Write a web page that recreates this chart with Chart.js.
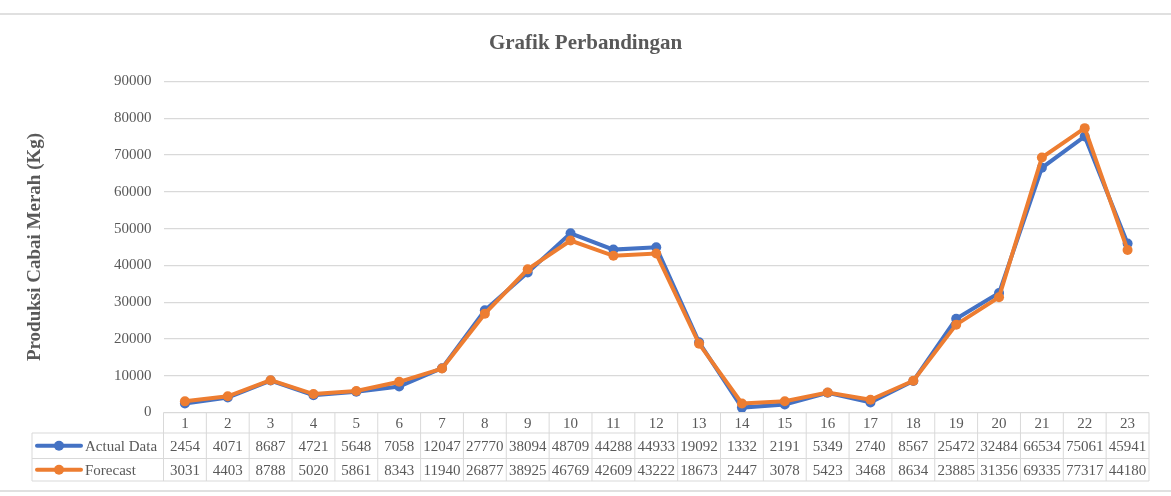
<!DOCTYPE html>
<html>
<head>
<meta charset="utf-8">
<script src="https://cdn.jsdelivr.net/npm/chart.js"></script>
<style>
  body { margin: 0; background: #fff; }
  #wrap { width: 1171px; height: 496px; }
</style>
</head>
<body>
<div id="wrap"><canvas id="myChart" width="1171" height="496"></canvas></div>
<script>
const categories = ['1','2','3','4','5','6','7','8','9','10','11','12','13','14','15','16','17','18','19','20','21','22','23'];
const actualData = [2454, 4071, 8687, 4721, 5648, 7058, 12047, 27770, 38094, 48709, 44288, 44933, 19092, 1332, 2191, 5349, 2740, 8567, 25472, 32484, 66534, 75061, 45941];
const forecastData = [3031, 4403, 8788, 5020, 5861, 8343, 11940, 26877, 38925, 46769, 42609, 43222, 18673, 2447, 3078, 5423, 3468, 8634, 23885, 31356, 69335, 77317, 44180];
const yMin = 0;
const yMax = 90000;
const yStep = 10000;

const blue = '#4472C4';
const orange = '#ED7D31';
const textColor = '#595959';
const lineGray = '#d9d9d9';
const serif = "'Liberation Serif', 'Times New Roman', serif";

// excel-like data table under the plot, plus the frame lines
const dataTable = {
    id: 'data_table',
    afterDraw: (chart) => {
        const ctx = chart.ctx;
        const area = chart.chartArea;
        const x = chart.scales.x;
        const colW = (area.right - area.left) / categories.length;
        const tableLeft = 32;
        const rows = [area.bottom, 433, 458.5, 481];

        ctx.save();

        // frame lines top and bottom
        ctx.strokeStyle = '#e0e0e0';
        ctx.lineWidth = 2;
        ctx.beginPath();
        ctx.moveTo(0, 14); ctx.lineTo(chart.width, 14);
        ctx.moveTo(0, 491); ctx.lineTo(chart.width, 491);
        ctx.stroke();

        ctx.strokeStyle = lineGray;
        ctx.lineWidth = 1;
        ctx.beginPath();
        // horizontal lines
        ctx.moveTo(area.left, rows[0]); ctx.lineTo(area.right, rows[0]);
        for (let r = 1; r < rows.length; r++) {
            ctx.moveTo(tableLeft, rows[r]); ctx.lineTo(area.right, rows[r]);
        }
        // vertical lines
        ctx.moveTo(tableLeft, rows[1]); ctx.lineTo(tableLeft, rows[3]);
        for (let i = 0; i <= categories.length; i++) {
            const px = area.left + i * colW;
            ctx.moveTo(px, rows[0]); ctx.lineTo(px, rows[3]);
        }
        ctx.stroke();

        ctx.fillStyle = textColor;
        ctx.font = '15px ' + serif;
        ctx.textAlign = 'center';
        ctx.textBaseline = 'middle';
        const series = [actualData, forecastData];
        categories.forEach(function(cat, i) {
            const cx = x.getPixelForValue(i);
            ctx.fillText(cat, cx, (rows[0] + rows[1]) / 2 + 1);
            series.forEach(function(vals, s) {
                ctx.fillText(String(vals[i]), cx, (rows[s + 1] + rows[s + 2]) / 2 + 1);
            });
        });

        // legend keys in the first column
        const keys = [
            { label: 'Actual Data', color: blue },
            { label: 'Forecast', color: orange }
        ];
        keys.forEach(function(k, s) {
            const cy = (rows[s + 1] + rows[s + 2]) / 2;
            ctx.strokeStyle = k.color;
            ctx.lineWidth = 4;
            ctx.lineCap = 'round';
            ctx.beginPath();
            ctx.moveTo(37, cy); ctx.lineTo(81, cy);
            ctx.stroke();
            ctx.fillStyle = k.color;
            ctx.beginPath();
            ctx.arc(59, cy, 5, 0, Math.PI * 2);
            ctx.fill();
            ctx.fillStyle = textColor;
            ctx.textAlign = 'left';
            ctx.fillText(k.label, 85, cy + 1);
        });

        ctx.restore();
    }
};

const ctx = document.getElementById('myChart');

const myChart = new Chart(ctx, {
    type: 'line',
    data: {
        labels: categories,
        datasets: [
            {
                label: 'Actual Data',
                data: actualData,
                borderColor: blue,
                backgroundColor: blue,
                borderWidth: 4,
                pointRadius: 5,
                pointBorderWidth: 0,
                tension: 0,
                order: 1
            },
            {
                label: 'Forecast',
                data: forecastData,
                borderColor: orange,
                backgroundColor: orange,
                borderWidth: 4,
                pointRadius: 5,
                pointBorderWidth: 0,
                tension: 0,
                order: 0
            }
        ]
    },
    options: {
        responsive: false,
        animation: false,
        devicePixelRatio: 1,
        events: [],
        layout: {
            padding: { left: 22, right: 22, top: 0, bottom: 83.5 }
        },
        plugins: {
            legend: { display: false },
            tooltip: { enabled: false },
            title: {
                display: true,
                text: 'Grafik Perbandingan',
                color: textColor,
                font: { family: serif, size: 21, weight: 'bold', lineHeight: 1.2 },
                padding: { top: 31, bottom: 25.3 }
            }
        },
        scales: {
            x: {
                display: false,
                offset: true
            },
            y: {
                min: yMin,
                max: yMax,
                afterFit: function(scale) {
                    scale.width = 141.5;
                },
                ticks: {
                    stepSize: yStep,
                    padding: 12,
                    color: textColor,
                    font: { family: serif, size: 15 },
                    callback: function(v) { return String(v); }
                },
                grid: {
                    color: lineGray,
                    lineWidth: 1.3,
                    drawTicks: false
                },
                border: { display: false },
                title: {
                    display: true,
                    text: 'Produksi Cabai Merah (Kg)',
                    color: textColor,
                    font: { family: serif, size: 19, weight: 'bold', lineHeight: 1.2 },
                    padding: { top: 2, bottom: 0 }
                }
            }
        }
    },
    plugins: [dataTable]
});
</script>
</body>
</html>
